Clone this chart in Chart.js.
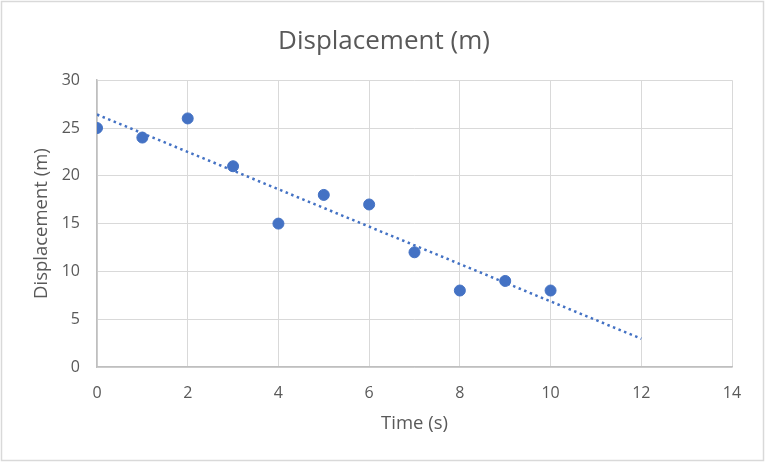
<!DOCTYPE html>
<html>
<head>
<meta charset="utf-8">
<script src="https://cdn.jsdelivr.net/npm/chart.js@4"></script>
<style>
  html, body { margin: 0; padding: 0; background: #ffffff; }
  canvas { display: block; }
</style>
</head>
<body>
<canvas id="chart" width="768" height="464"></canvas>
<script>
// values
const times = [0, 1, 2, 3, 4, 5, 6, 7, 8, 9, 10];
const displacements = [25, 24, 26, 21, 15, 18, 17, 12, 8, 9, 8];
const trendRange = [0, 12];

const blue = '#4472c4';
const gridGrey = '#d9d9d9';
const textGrey = '#595959';
const fontFamily = "'Open Sans', 'Noto Sans', sans-serif";

// linear trendline (least squares), like the Excel one
const n = times.length;
const mx = times.reduce((a, b) => a + b, 0) / n;
const my = displacements.reduce((a, b) => a + b, 0) / n;
let sxy = 0, sxx = 0;
times.forEach((t, i) => {
    sxy += (t - mx) * (displacements[i] - my);
    sxx += (t - mx) * (t - mx);
});
const slope = sxy / sxx;
const intercept = my - slope * mx;
const trendPoints = trendRange.map(t => ({ x: t, y: intercept + slope * t }));

const points = times.map((t, i) => ({ x: t, y: displacements[i] }));

// white background + light frame round the whole chart
const framePlugin = {
    id: 'frame',
    beforeDraw(chart) {
        const ctx = chart.ctx;
        ctx.save();
        ctx.fillStyle = '#ffffff';
        ctx.fillRect(0, 0, chart.width, chart.height);
        ctx.strokeStyle = gridGrey;
        ctx.lineWidth = 1.5;
        ctx.strokeRect(1.5, 1.5, 762, 459);
        ctx.restore();
    }
};

const ctx = document.getElementById('chart').getContext('2d');

new Chart(ctx, {
    type: 'scatter',
    data: {
        datasets: [
            {
                type: 'line',
                data: trendPoints,
                borderColor: blue,
                borderWidth: 2.5,
                borderDash: [2.5, 3.5],
                pointRadius: 0,
                fill: false,
                order: 2
            },
            {
                data: points,
                backgroundColor: blue,
                borderColor: blue,
                pointRadius: 5.5,
                order: 1
            }
        ]
    },
    options: {
        responsive: false,
        devicePixelRatio: 1,
        animation: false,
        layout: {
            padding: 0
        },
        plugins: {
            legend: { display: false },
            tooltip: { enabled: false },
            title: {
                display: true,
                text: 'Displacement (m)',
                color: textGrey,
                font: { family: fontFamily, size: 26, weight: 'normal' },
                padding: { top: 26, bottom: 23 }
            }
        },
        scales: {
            x: {
                type: 'linear',
                min: 0,
                max: 14,
                afterFit(scale) { scale.height = 97; },
                ticks: {
                    stepSize: 2,
                    color: textGrey,
                    padding: 17,
                    font: { family: fontFamily, size: 16 }
                },
                grid: { color: gridGrey, lineWidth: 1, drawTicks: false },
                border: { color: '#bfbfbf', width: 1.5 },
                title: {
                    display: true,
                    text: 'Time (s)',
                    color: textGrey,
                    font: { family: fontFamily, size: 18.5 },
                    padding: { top: 0, bottom: 29 }
                }
            },
            y: {
                min: 0,
                max: 30,
                afterFit(scale) { scale.width = 97; },
                ticks: {
                    stepSize: 5,
                    color: textGrey,
                    padding: 17,
                    font: { family: fontFamily, size: 16 }
                },
                grid: { color: gridGrey, lineWidth: 1, drawTicks: false },
                border: { color: '#bfbfbf', width: 1.5 },
                title: {
                    display: true,
                    text: 'Displacement (m)',
                    color: textGrey,
                    font: { family: fontFamily, size: 18.5 },
                    padding: { top: 31, bottom: 0 }
                }
            },
            // empty right-hand spacer so the title stays centred on the whole canvas
            spacer: {
                position: 'right',
                min: 0,
                max: 30,
                afterFit(scale) { scale.width = 36; },
                ticks: { display: false },
                grid: { display: false, drawTicks: false },
                border: { display: false }
            }
        }
    },
    plugins: [framePlugin]
});
</script>
</body>
</html>
